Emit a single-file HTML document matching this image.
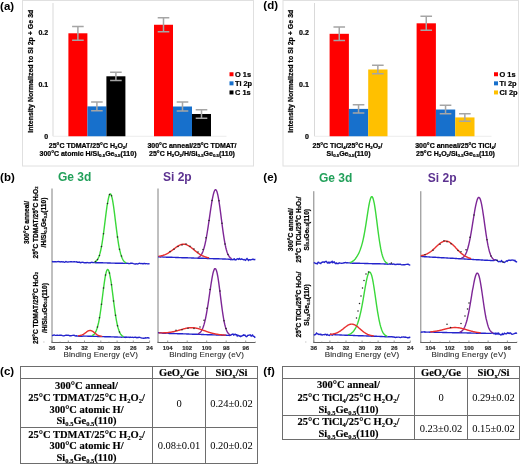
<!DOCTYPE html>
<html><head><meta charset="utf-8"><style>
html,body{margin:0;padding:0;background:#fff;}
svg{display:block;}
</style></head><body>
<svg width="520" height="465" viewBox="0 0 520 465">
<rect width="520" height="465" fill="#fff"/>
<rect x="22.5" y="0.5" width="231.0" height="165.5" fill="none" stroke="#e0e0e0" stroke-width="1"/>
<line x1="53" y1="3" x2="53" y2="136.25" stroke="#d9d9d9" stroke-width="1"/>
<line x1="53" y1="136.25" x2="226.5" y2="136.25" stroke="#ececec" stroke-width="1"/>
<text x="48.2" y="138.75" font-size="7" text-anchor="end" font-weight="bold" fill="#000" font-family="'Liberation Sans', Arial, sans-serif" stroke="#000" stroke-width="0.22" >0</text>
<text x="48.2" y="86.75" font-size="7" text-anchor="end" font-weight="bold" fill="#000" font-family="'Liberation Sans', Arial, sans-serif" stroke="#000" stroke-width="0.22" >0.1</text>
<text x="48.2" y="34.75" font-size="7" text-anchor="end" font-weight="bold" fill="#000" font-family="'Liberation Sans', Arial, sans-serif" stroke="#000" stroke-width="0.22" >0.2</text>
<rect x="68.40" y="33.29" width="19.0" height="102.96" fill="#ff0000"/>
<path d="M72.10 26.44H83.70M77.90 26.44V40.14M72.10 40.14H83.70" stroke="#a5a5a5" stroke-width="1.5" fill="none"/>
<rect x="87.40" y="106.40" width="19.0" height="29.85" fill="#1770cc"/>
<path d="M91.10 102.00H102.70M96.90 102.00V110.80M91.10 110.80H102.70" stroke="#a5a5a5" stroke-width="1.5" fill="none"/>
<rect x="106.40" y="76.29" width="19.0" height="59.96" fill="#000000"/>
<path d="M110.10 72.14H121.70M115.90 72.14V80.44M110.10 80.44H121.70" stroke="#a5a5a5" stroke-width="1.5" fill="none"/>
<rect x="154.00" y="24.76" width="19.0" height="111.49" fill="#ff0000"/>
<path d="M157.70 17.66H169.30M163.50 17.66V31.86M157.70 31.86H169.30" stroke="#a5a5a5" stroke-width="1.5" fill="none"/>
<rect x="173.00" y="106.51" width="19.0" height="29.74" fill="#1770cc"/>
<path d="M176.70 102.01H188.30M182.50 102.01V111.01M176.70 111.01H188.30" stroke="#a5a5a5" stroke-width="1.5" fill="none"/>
<rect x="192.00" y="113.99" width="19.0" height="22.26" fill="#000000"/>
<path d="M195.70 109.69H207.30M201.50 109.69V118.29M195.70 118.29H207.30" stroke="#a5a5a5" stroke-width="1.5" fill="none"/>
<rect x="229.5" y="72.25" width="4" height="4" fill="#ff0000"/>
<text x="235.0" y="76.85" font-size="7.4" text-anchor="start" font-weight="bold" fill="#000" font-family="'Liberation Sans', Arial, sans-serif" stroke="#000" stroke-width="0.22" >O 1s</text>
<rect x="229.5" y="81.35" width="4" height="4" fill="#1770cc"/>
<text x="235.0" y="85.94999999999999" font-size="7.4" text-anchor="start" font-weight="bold" fill="#000" font-family="'Liberation Sans', Arial, sans-serif" stroke="#000" stroke-width="0.22" >Ti 2p</text>
<rect x="229.5" y="90.45" width="4" height="4" fill="#000000"/>
<text x="235.0" y="95.05" font-size="7.4" text-anchor="start" font-weight="bold" fill="#000" font-family="'Liberation Sans', Arial, sans-serif" stroke="#000" stroke-width="0.22" >C 1s</text>
<text x="88" y="148.2" font-size="7" text-anchor="middle" font-weight="bold" fill="#000" font-family="'Liberation Sans', Arial, sans-serif" stroke="#000" stroke-width="0.22" >25°C TDMAT/25°C H<tspan font-size="62%" baseline-shift="-30%">2</tspan>O<tspan font-size="62%" baseline-shift="-30%">2</tspan>/</text>
<text x="88" y="156.0" font-size="7" text-anchor="middle" font-weight="bold" fill="#000" font-family="'Liberation Sans', Arial, sans-serif" stroke="#000" stroke-width="0.22" >300°C atomic H/Si<tspan font-size="62%" baseline-shift="-30%">0.5</tspan>Ge<tspan font-size="62%" baseline-shift="-30%">0.5</tspan>(110)</text>
<text x="192" y="148.2" font-size="7" text-anchor="middle" font-weight="bold" fill="#000" font-family="'Liberation Sans', Arial, sans-serif" stroke="#000" stroke-width="0.22" >300°C anneal/25°C TDMAT/</text>
<text x="192" y="156.0" font-size="7" text-anchor="middle" font-weight="bold" fill="#000" font-family="'Liberation Sans', Arial, sans-serif" stroke="#000" stroke-width="0.22" >25°C H<tspan font-size="62%" baseline-shift="-30%">2</tspan>O<tspan font-size="62%" baseline-shift="-30%">2</tspan>/H/Si<tspan font-size="62%" baseline-shift="-30%">0.5</tspan>Ge<tspan font-size="62%" baseline-shift="-30%">0.5</tspan>(110)</text>
<text transform="translate(30.2,71.25) rotate(-90)" x="0" y="0" font-size="7" text-anchor="middle" font-weight="bold" font-family="'Liberation Sans', Arial, sans-serif" stroke="#000" stroke-width="0.22" dominant-baseline="central">Intensity Normalized to Si 2p + Ge 3d</text>
<text x="0.1" y="10.2" font-size="11.5" text-anchor="start" font-weight="bold" fill="#000" font-family="'Liberation Sans', Arial, sans-serif" >(a)</text>
<rect x="283" y="0.5" width="235.5" height="165.5" fill="none" stroke="#e0e0e0" stroke-width="1"/>
<line x1="314.5" y1="3" x2="314.5" y2="136.25" stroke="#d9d9d9" stroke-width="1"/>
<line x1="314.5" y1="136.25" x2="491.5" y2="136.25" stroke="#ececec" stroke-width="1"/>
<text x="308.8" y="138.75" font-size="7" text-anchor="end" font-weight="bold" fill="#000" font-family="'Liberation Sans', Arial, sans-serif" stroke="#000" stroke-width="0.22" >0</text>
<text x="308.8" y="86.75" font-size="7" text-anchor="end" font-weight="bold" fill="#000" font-family="'Liberation Sans', Arial, sans-serif" stroke="#000" stroke-width="0.22" >0.1</text>
<text x="308.8" y="34.75" font-size="7" text-anchor="end" font-weight="bold" fill="#000" font-family="'Liberation Sans', Arial, sans-serif" stroke="#000" stroke-width="0.22" >0.2</text>
<rect x="329.60" y="33.81" width="19.3" height="102.44" fill="#ff0000"/>
<path d="M333.45 27.01H345.05M339.25 27.01V40.61M333.45 40.61H345.05" stroke="#a5a5a5" stroke-width="1.5" fill="none"/>
<rect x="348.90" y="108.90" width="19.3" height="27.35" fill="#1770cc"/>
<path d="M352.75 104.75H364.35M358.55 104.75V113.05M352.75 113.05H364.35" stroke="#a5a5a5" stroke-width="1.5" fill="none"/>
<rect x="368.20" y="69.48" width="19.3" height="66.77" fill="#ffc000"/>
<path d="M372.05 65.13H383.65M377.85 65.13V73.83M372.05 73.83H383.65" stroke="#a5a5a5" stroke-width="1.5" fill="none"/>
<rect x="416.60" y="23.31" width="19.3" height="112.94" fill="#ff0000"/>
<path d="M420.45 16.31H432.05M426.25 16.31V30.31M420.45 30.31H432.05" stroke="#a5a5a5" stroke-width="1.5" fill="none"/>
<rect x="435.90" y="109.52" width="19.3" height="26.73" fill="#1770cc"/>
<path d="M439.75 105.22H451.35M445.55 105.22V113.82M439.75 113.82H451.35" stroke="#a5a5a5" stroke-width="1.5" fill="none"/>
<rect x="455.20" y="117.43" width="19.3" height="18.82" fill="#ffc000"/>
<path d="M459.05 113.73H470.65M464.85 113.73V121.13M459.05 121.13H470.65" stroke="#a5a5a5" stroke-width="1.5" fill="none"/>
<rect x="494" y="72.25" width="4" height="4" fill="#ff0000"/>
<text x="499.5" y="76.85" font-size="7.4" text-anchor="start" font-weight="bold" fill="#000" font-family="'Liberation Sans', Arial, sans-serif" stroke="#000" stroke-width="0.22" >O 1s</text>
<rect x="494" y="81.35" width="4" height="4" fill="#1770cc"/>
<text x="499.5" y="85.94999999999999" font-size="7.4" text-anchor="start" font-weight="bold" fill="#000" font-family="'Liberation Sans', Arial, sans-serif" stroke="#000" stroke-width="0.22" >Ti 2p</text>
<rect x="494" y="90.45" width="4" height="4" fill="#ffc000"/>
<text x="499.5" y="95.05" font-size="7.4" text-anchor="start" font-weight="bold" fill="#000" font-family="'Liberation Sans', Arial, sans-serif" stroke="#000" stroke-width="0.22" >Cl 2p</text>
<text x="347.5" y="148.2" font-size="7" text-anchor="middle" font-weight="bold" fill="#000" font-family="'Liberation Sans', Arial, sans-serif" stroke="#000" stroke-width="0.22" >25°C TiCl<tspan font-size="62%" baseline-shift="-30%">4</tspan>/25°C H<tspan font-size="62%" baseline-shift="-30%">2</tspan>O<tspan font-size="62%" baseline-shift="-30%">2</tspan>/</text>
<text x="348.5" y="156.0" font-size="7" text-anchor="middle" font-weight="bold" fill="#000" font-family="'Liberation Sans', Arial, sans-serif" stroke="#000" stroke-width="0.22" >Si<tspan font-size="62%" baseline-shift="-30%">0.5</tspan>Ge<tspan font-size="62%" baseline-shift="-30%">0.5</tspan>(110)</text>
<text x="455.5" y="148.2" font-size="7" text-anchor="middle" font-weight="bold" fill="#000" font-family="'Liberation Sans', Arial, sans-serif" stroke="#000" stroke-width="0.22" >300°C anneal/25°C TiCl<tspan font-size="62%" baseline-shift="-30%">4</tspan>/</text>
<text x="455.5" y="156.0" font-size="7" text-anchor="middle" font-weight="bold" fill="#000" font-family="'Liberation Sans', Arial, sans-serif" stroke="#000" stroke-width="0.22" >25°C H<tspan font-size="62%" baseline-shift="-30%">2</tspan>O<tspan font-size="62%" baseline-shift="-30%">2</tspan>/Si<tspan font-size="62%" baseline-shift="-30%">0.5</tspan>Ge<tspan font-size="62%" baseline-shift="-30%">0.5</tspan>(110)</text>
<text transform="translate(290.5,71.25) rotate(-90)" x="0" y="0" font-size="7" text-anchor="middle" font-weight="bold" font-family="'Liberation Sans', Arial, sans-serif" stroke="#000" stroke-width="0.22" dominant-baseline="central">Intensity Normalized to Si 2p + Ge 3d</text>
<text x="263.3" y="9.4" font-size="11.5" text-anchor="start" font-weight="bold" fill="#000" font-family="'Liberation Sans', Arial, sans-serif" >(d)</text>
<text x="0.1" y="180.5" font-size="11.5" text-anchor="start" font-weight="bold" fill="#000" font-family="'Liberation Sans', Arial, sans-serif" >(b)</text>
<text x="58" y="180.7" font-size="12" text-anchor="start" font-weight="bold" fill="#22a05a" font-family="'Liberation Sans', Arial, sans-serif" >Ge 3d</text>
<text x="163" y="180.7" font-size="12" text-anchor="start" font-weight="bold" fill="#5c3290" font-family="'Liberation Sans', Arial, sans-serif" >Si 2p</text>
<path d="M52 188.5V342.5" stroke="#808080" stroke-width="1" fill="none"/>
<path d="M51.5 342.5H149.6" stroke="#606060" stroke-width="1" fill="none"/>
<line x1="52.0" y1="342.5" x2="52.0" y2="340.5" stroke="#808080" stroke-width="0.8"/>
<text x="52.0" y="349.5" font-size="5.9" text-anchor="middle" font-weight="bold" fill="#333" font-family="'Liberation Sans', Arial, sans-serif" stroke="#333" stroke-width="0.22" >36</text>
<line x1="68.3" y1="342.5" x2="68.3" y2="340.5" stroke="#808080" stroke-width="0.8"/>
<text x="68.3" y="349.5" font-size="5.9" text-anchor="middle" font-weight="bold" fill="#333" font-family="'Liberation Sans', Arial, sans-serif" stroke="#333" stroke-width="0.22" >34</text>
<line x1="84.5" y1="342.5" x2="84.5" y2="340.5" stroke="#808080" stroke-width="0.8"/>
<text x="84.5" y="349.5" font-size="5.9" text-anchor="middle" font-weight="bold" fill="#333" font-family="'Liberation Sans', Arial, sans-serif" stroke="#333" stroke-width="0.22" >32</text>
<line x1="100.8" y1="342.5" x2="100.8" y2="340.5" stroke="#808080" stroke-width="0.8"/>
<text x="100.8" y="349.5" font-size="5.9" text-anchor="middle" font-weight="bold" fill="#333" font-family="'Liberation Sans', Arial, sans-serif" stroke="#333" stroke-width="0.22" >30</text>
<line x1="117.1" y1="342.5" x2="117.1" y2="340.5" stroke="#808080" stroke-width="0.8"/>
<text x="117.1" y="349.5" font-size="5.9" text-anchor="middle" font-weight="bold" fill="#333" font-family="'Liberation Sans', Arial, sans-serif" stroke="#333" stroke-width="0.22" >28</text>
<line x1="133.3" y1="342.5" x2="133.3" y2="340.5" stroke="#808080" stroke-width="0.8"/>
<text x="133.3" y="349.5" font-size="5.9" text-anchor="middle" font-weight="bold" fill="#333" font-family="'Liberation Sans', Arial, sans-serif" stroke="#333" stroke-width="0.22" >26</text>
<line x1="149.6" y1="342.5" x2="149.6" y2="340.5" stroke="#808080" stroke-width="0.8"/>
<text x="149.6" y="349.5" font-size="5.9" text-anchor="middle" font-weight="bold" fill="#333" font-family="'Liberation Sans', Arial, sans-serif" stroke="#333" stroke-width="0.22" >24</text>
<line x1="43.9" y1="342.5" x2="43.9" y2="341.5" stroke="#808080" stroke-width="0.6"/>
<line x1="60.1" y1="342.5" x2="60.1" y2="341.5" stroke="#808080" stroke-width="0.6"/>
<line x1="76.4" y1="342.5" x2="76.4" y2="341.5" stroke="#808080" stroke-width="0.6"/>
<line x1="92.7" y1="342.5" x2="92.7" y2="341.5" stroke="#808080" stroke-width="0.6"/>
<line x1="108.9" y1="342.5" x2="108.9" y2="341.5" stroke="#808080" stroke-width="0.6"/>
<line x1="125.2" y1="342.5" x2="125.2" y2="341.5" stroke="#808080" stroke-width="0.6"/>
<path d="M158 188.5V342.5" stroke="#808080" stroke-width="1" fill="none"/>
<path d="M157.5 342.5H255.4" stroke="#606060" stroke-width="1" fill="none"/>
<line x1="167.7" y1="342.5" x2="167.7" y2="340.5" stroke="#808080" stroke-width="0.8"/>
<text x="167.7" y="349.5" font-size="5.9" text-anchor="middle" font-weight="bold" fill="#333" font-family="'Liberation Sans', Arial, sans-serif" stroke="#333" stroke-width="0.22" >104</text>
<line x1="187.2" y1="342.5" x2="187.2" y2="340.5" stroke="#808080" stroke-width="0.8"/>
<text x="187.2" y="349.5" font-size="5.9" text-anchor="middle" font-weight="bold" fill="#333" font-family="'Liberation Sans', Arial, sans-serif" stroke="#333" stroke-width="0.22" >102</text>
<line x1="206.7" y1="342.5" x2="206.7" y2="340.5" stroke="#808080" stroke-width="0.8"/>
<text x="206.7" y="349.5" font-size="5.9" text-anchor="middle" font-weight="bold" fill="#333" font-family="'Liberation Sans', Arial, sans-serif" stroke="#333" stroke-width="0.22" >100</text>
<line x1="226.2" y1="342.5" x2="226.2" y2="340.5" stroke="#808080" stroke-width="0.8"/>
<text x="226.2" y="349.5" font-size="5.9" text-anchor="middle" font-weight="bold" fill="#333" font-family="'Liberation Sans', Arial, sans-serif" stroke="#333" stroke-width="0.22" >98</text>
<line x1="245.7" y1="342.5" x2="245.7" y2="340.5" stroke="#808080" stroke-width="0.8"/>
<text x="245.7" y="349.5" font-size="5.9" text-anchor="middle" font-weight="bold" fill="#333" font-family="'Liberation Sans', Arial, sans-serif" stroke="#333" stroke-width="0.22" >96</text>
<line x1="158.0" y1="342.5" x2="158.0" y2="341.5" stroke="#808080" stroke-width="0.6"/>
<line x1="177.5" y1="342.5" x2="177.5" y2="341.5" stroke="#808080" stroke-width="0.6"/>
<line x1="197.0" y1="342.5" x2="197.0" y2="341.5" stroke="#808080" stroke-width="0.6"/>
<line x1="216.4" y1="342.5" x2="216.4" y2="341.5" stroke="#808080" stroke-width="0.6"/>
<line x1="235.9" y1="342.5" x2="235.9" y2="341.5" stroke="#808080" stroke-width="0.6"/>
<line x1="255.4" y1="342.5" x2="255.4" y2="341.5" stroke="#808080" stroke-width="0.6"/>
<text x="100.8" y="356.9" font-size="8.0" text-anchor="middle" font-weight="normal" fill="#2a2a2a" font-family="'Liberation Sans', Arial, sans-serif" stroke="#2a2a2a" stroke-width="0.1" letter-spacing="0.17">Binding Energy (eV)</text>
<text x="206.7" y="356.9" font-size="8.0" text-anchor="middle" font-weight="normal" fill="#2a2a2a" font-family="'Liberation Sans', Arial, sans-serif" stroke="#2a2a2a" stroke-width="0.1" letter-spacing="0.17">Binding Energy (eV)</text>
<path d="M52.0 261.4 L52.7 261.7 L53.4 261.8 L54.1 261.6 L54.8 261.7 L55.5 261.6 L56.2 261.8 L56.9 261.9 L57.6 261.6 L58.3 261.4 L59.0 261.8 L59.7 261.7 L60.4 261.9 L61.1 261.6 L61.8 261.7 L62.5 261.9 L63.2 261.7 L63.9 262.1 L64.6 262.3 L65.3 261.9 L66.0 261.6 L66.7 261.8 L67.4 262.1 L68.1 262.0 L68.9 261.9 L69.6 261.9 L70.3 261.7 L71.0 261.7 L71.7 261.8 L72.4 261.9 L73.1 261.9 L73.8 261.8 L74.5 261.8 L75.2 261.9 L75.9 261.9 L76.6 261.8 L77.3 262.2 L78.0 262.2 L78.7 262.3 L79.4 262.1 L80.1 262.5 L80.8 262.7 L81.5 262.3 L82.2 262.2 L82.9 262.4 L83.6 262.5 L84.3 262.8 L85.0 262.6 L85.7 262.7 L86.4 262.7 L87.1 262.5 L87.8 262.6 L88.5 262.8 L89.2 262.9 L89.9 262.8 L90.6 262.7 L91.3 262.4 L92.0 262.3 L92.7 262.6 L93.4 262.6 L94.1 262.5 L94.8 262.6 L95.5 262.7 L96.2 262.7 L96.9 262.7 L97.6 262.7 L98.3 262.7 L99.0 262.8 L99.7 262.8 L100.4 262.8 L101.2 262.8 L101.9 262.8 L102.6 262.8 L103.3 262.9 L104.0 262.9 L104.7 262.9 L105.4 262.9 L106.1 262.9 L106.8 262.9 L107.5 263.0 L108.2 263.0 L108.9 263.0 L109.6 263.0 L110.3 263.0 L111.0 263.1 L111.7 263.1 L112.4 263.1 L113.1 263.1 L113.8 263.1 L114.5 263.1 L115.2 263.2 L115.9 263.2 L116.6 263.2 L117.3 263.2 L118.0 263.2 L118.7 263.2 L119.4 263.3 L120.1 263.3 L120.8 263.3 L121.5 263.3 L122.2 263.3 L122.9 263.3 L123.6 263.4 L124.3 263.4 L125.0 263.4 L125.7 263.4 L126.4 263.3 L127.1 263.3 L127.8 263.4 L128.5 263.5 L129.2 263.6 L129.9 263.5 L130.6 263.3 L131.3 263.2 L132.0 263.2 L132.7 263.4 L133.5 263.7 L134.2 263.9 L134.9 264.0 L135.6 264.0 L136.3 263.8 L137.0 263.9 L137.7 264.0 L138.4 263.6 L139.1 263.4 L139.8 263.3 L140.5 263.6 L141.2 263.6 L141.9 263.4 L142.6 263.7 L143.3 263.7 L144.0 263.5 L144.7 263.5 L145.4 263.7 L146.1 263.6 L146.8 263.6 L147.5 263.9 L148.2 263.9 L148.9 263.8 L149.6 263.9" stroke="#2424cc" stroke-width="1.4" fill="none"/>
<path d="M94.5 262.0 L95.0 261.8 L95.5 261.5 L96.0 261.2 L96.5 260.7 L97.0 260.2 L97.5 259.5 L98.0 258.6 L98.5 257.6 L99.0 256.4 L99.5 254.9 L100.0 253.2 L100.5 251.3 L101.0 249.0 L101.5 246.5 L102.0 243.6 L102.5 240.5 L103.0 237.1 L103.5 233.5 L104.0 229.7 L104.5 225.7 L105.0 221.7 L105.5 217.6 L106.0 213.6 L106.5 209.8 L107.0 206.2 L107.6 202.9 L108.1 200.1 L108.6 197.7 L109.1 195.8 L109.6 194.6 L110.1 194.0 L110.6 194.0 L111.1 194.7 L111.6 196.1 L112.1 198.0 L112.6 200.4 L113.1 203.4 L113.6 206.7 L114.1 210.4 L114.6 214.2 L115.1 218.3 L115.6 222.4 L116.1 226.4 L116.6 230.4 L117.1 234.2 L117.6 237.8 L118.1 241.2 L118.6 244.3 L119.1 247.2 L119.6 249.7 L120.2 251.9 L120.7 253.9 L121.2 255.6 L121.7 257.1 L122.2 258.3 L122.7 259.3 L123.2 260.2 L123.7 260.9 L124.2 261.5 L124.7 261.9 L125.2 262.3 L125.7 262.6 L126.2 262.8" stroke="#3ad83a" stroke-width="1.4" fill="none" stroke-linejoin="round"/>
<circle cx="95.5" cy="261.4" r="0.75" fill="#222"/>
<circle cx="97.5" cy="259.5" r="0.75" fill="#222"/>
<circle cx="99.5" cy="255.4" r="0.75" fill="#222"/>
<circle cx="101.5" cy="246.4" r="0.75" fill="#222"/>
<circle cx="103.5" cy="233.7" r="0.75" fill="#222"/>
<circle cx="107.5" cy="203.4" r="0.75" fill="#222"/>
<circle cx="109.5" cy="194.4" r="0.75" fill="#222"/>
<circle cx="111.5" cy="195.8" r="0.75" fill="#222"/>
<circle cx="117.5" cy="237.1" r="0.75" fill="#222"/>
<circle cx="119.5" cy="249.3" r="0.75" fill="#222"/>
<circle cx="121.5" cy="256.1" r="0.75" fill="#222"/>
<path d="M52.0 335.4 L52.7 335.6 L53.4 335.1 L54.1 334.9 L54.8 335.2 L55.5 335.4 L56.2 335.4 L56.9 335.3 L57.6 335.3 L58.3 335.4 L59.0 335.4 L59.7 335.2 L60.4 335.2 L61.1 335.2 L61.8 335.4 L62.5 335.7 L63.2 335.9 L63.9 335.8 L64.6 335.6 L65.3 335.4 L66.0 335.2 L66.7 335.1 L67.4 335.3 L68.1 335.3 L68.9 335.4 L69.6 335.7 L70.3 335.7 L71.0 335.7 L71.7 335.6 L72.4 335.4 L73.1 335.4 L73.8 335.3 L74.5 335.5 L75.2 335.9 L75.9 336.0 L76.6 335.8 L77.3 336.0 L78.0 336.1 L78.7 336.2 L79.4 336.3 L80.1 336.3 L80.8 336.2 L81.5 336.1 L82.2 336.2 L82.9 336.1 L83.6 336.0 L84.3 336.1 L85.0 336.1 L85.7 336.1 L86.4 336.1 L87.1 336.1 L87.8 336.2 L88.5 336.2 L89.2 336.2 L89.9 336.2 L90.6 336.2 L91.3 336.3 L92.0 336.3 L92.7 336.3 L93.4 336.3 L94.1 336.4 L94.8 336.4 L95.5 336.4 L96.2 336.4 L96.9 336.4 L97.6 336.5 L98.3 336.5 L99.0 336.5 L99.7 336.5 L100.4 336.5 L101.2 336.6 L101.9 336.6 L102.6 336.6 L103.3 336.6 L104.0 336.6 L104.7 336.7 L105.4 336.7 L106.1 336.7 L106.8 336.7 L107.5 336.7 L108.2 336.8 L108.9 336.8 L109.6 336.8 L110.3 336.8 L111.0 336.9 L111.7 336.9 L112.4 336.9 L113.1 336.9 L113.8 336.9 L114.5 337.0 L115.2 337.0 L115.9 337.0 L116.6 337.0 L117.3 337.0 L118.0 337.1 L118.7 337.1 L119.4 337.1 L120.1 337.1 L120.8 337.1 L121.5 337.2 L122.2 337.1 L122.9 337.1 L123.6 337.0 L124.3 337.2 L125.0 337.0 L125.7 337.4 L126.4 337.1 L127.1 337.3 L127.8 337.1 L128.5 337.1 L129.2 337.4 L129.9 337.2 L130.6 337.1 L131.3 337.4 L132.0 337.4 L132.7 337.2 L133.5 337.6 L134.2 337.4 L134.9 337.2 L135.6 337.3 L136.3 337.5 L137.0 337.7 L137.7 337.5 L138.4 337.5 L139.1 337.3 L139.8 337.4 L140.5 337.7 L141.2 337.9 L141.9 338.1 L142.6 338.1 L143.3 338.2 L144.0 338.2 L144.7 338.1 L145.4 337.8 L146.1 338.0 L146.8 337.9 L147.5 337.7 L148.2 337.8 L148.9 338.1 L149.6 337.8" stroke="#2424cc" stroke-width="1.4" fill="none"/>
<path d="M91.9 335.7 L92.4 335.5 L92.9 335.2 L93.4 334.9 L93.9 334.4 L94.4 333.9 L94.9 333.2 L95.4 332.4 L95.9 331.4 L96.4 330.2 L96.9 328.8 L97.4 327.1 L97.9 325.2 L98.5 323.0 L99.0 320.6 L99.5 317.8 L100.0 314.8 L100.5 311.5 L101.0 308.0 L101.5 304.2 L102.0 300.4 L102.5 296.5 L103.0 292.5 L103.5 288.6 L104.0 284.9 L104.5 281.4 L105.0 278.2 L105.5 275.4 L106.0 273.1 L106.5 271.3 L107.0 270.1 L107.5 269.5 L108.0 269.6 L108.5 270.2 L109.0 271.5 L109.5 273.4 L110.0 275.8 L110.5 278.7 L111.1 281.9 L111.6 285.5 L112.1 289.3 L112.6 293.2 L113.1 297.2 L113.6 301.1 L114.1 305.0 L114.6 308.7 L115.1 312.3 L115.6 315.6 L116.1 318.6 L116.6 321.3 L117.1 323.8 L117.6 326.0 L118.1 327.9 L118.6 329.6 L119.1 331.0 L119.6 332.2 L120.1 333.2 L120.6 334.1 L121.1 334.8 L121.6 335.3 L122.1 335.8 L122.6 336.1 L123.1 336.4 L123.7 336.6" stroke="#3ad83a" stroke-width="1.4" fill="none" stroke-linejoin="round"/>
<path d="M78.1 335.7 L78.6 335.7 L79.1 335.6 L79.6 335.6 L80.1 335.5 L80.6 335.4 L81.1 335.2 L81.6 335.1 L82.2 334.9 L82.7 334.6 L83.2 334.4 L83.7 334.1 L84.2 333.7 L84.7 333.4 L85.2 333.0 L85.7 332.6 L86.2 332.3 L86.7 331.9 L87.2 331.5 L87.7 331.2 L88.2 330.9 L88.7 330.7 L89.2 330.6 L89.7 330.5 L90.2 330.4 L90.7 330.5 L91.2 330.6 L91.7 330.8 L92.2 331.1 L92.7 331.4 L93.2 331.7 L93.7 332.1 L94.2 332.5 L94.7 332.9 L95.2 333.3 L95.7 333.7 L96.2 334.1 L96.7 334.5 L97.2 334.8 L97.7 335.1 L98.2 335.3 L98.8 335.6 L99.3 335.8 L99.8 335.9 L100.3 336.1 L100.8 336.2 L101.3 336.3 L101.8 336.4 L102.3 336.4" stroke="#e83030" stroke-width="1.4" fill="none" stroke-linejoin="round"/>
<circle cx="97.5" cy="326.9" r="0.75" fill="#222"/>
<circle cx="99.5" cy="317.8" r="0.75" fill="#222"/>
<circle cx="101.5" cy="304.3" r="0.75" fill="#222"/>
<circle cx="103.5" cy="288.1" r="0.75" fill="#222"/>
<circle cx="105.5" cy="274.9" r="0.75" fill="#222"/>
<circle cx="109.5" cy="273.1" r="0.75" fill="#222"/>
<circle cx="111.5" cy="284.8" r="0.75" fill="#222"/>
<circle cx="113.5" cy="300.9" r="0.75" fill="#222"/>
<circle cx="115.5" cy="315.2" r="0.75" fill="#222"/>
<circle cx="117.5" cy="325.7" r="0.75" fill="#222"/>
<circle cx="119.5" cy="332.0" r="0.75" fill="#222"/>
<path d="M158.0 256.8 L158.7 256.9 L159.4 256.9 L160.1 257.0 L160.8 257.0 L161.5 256.9 L162.2 256.9 L162.9 257.0 L163.6 257.1 L164.3 257.1 L165.0 257.1 L165.7 257.1 L166.4 257.2 L167.1 257.2 L167.8 257.2 L168.5 257.2 L169.2 257.3 L169.9 257.3 L170.6 257.3 L171.3 257.3 L172.0 257.3 L172.7 257.4 L173.4 257.4 L174.1 257.4 L174.8 257.4 L175.5 257.5 L176.2 257.5 L176.9 257.5 L177.6 257.5 L178.3 257.5 L179.0 257.6 L179.7 257.6 L180.4 257.6 L181.1 257.6 L181.8 257.7 L182.5 257.7 L183.2 257.7 L183.9 257.7 L184.6 257.7 L185.3 257.8 L186.0 257.8 L186.7 257.8 L187.4 257.8 L188.1 257.9 L188.8 257.9 L189.5 257.9 L190.2 257.9 L190.9 257.9 L191.6 258.0 L192.3 258.0 L193.0 258.0 L193.7 258.0 L194.4 258.1 L195.1 258.1 L195.8 258.1 L196.5 258.1 L197.2 258.1 L197.9 258.2 L198.6 258.2 L199.3 258.2 L200.0 258.2 L200.7 258.3 L201.4 258.3 L202.1 258.3 L202.8 258.3 L203.5 258.3 L204.2 258.4 L204.9 258.4 L205.6 258.4 L206.3 258.4 L207.1 258.5 L207.8 258.5 L208.5 258.5 L209.2 258.5 L209.9 258.6 L210.6 258.6 L211.3 258.6 L212.0 258.6 L212.7 258.6 L213.4 258.7 L214.1 258.7 L214.8 258.7 L215.5 258.7 L216.2 258.8 L216.9 258.8 L217.6 258.8 L218.3 258.8 L219.0 258.8 L219.7 258.9 L220.4 258.9 L221.1 258.9 L221.8 258.9 L222.5 259.0 L223.2 259.0 L223.9 259.0 L224.6 259.0 L225.3 259.0 L226.0 259.1 L226.7 259.1 L227.4 259.1 L228.1 259.1 L228.8 259.2 L229.5 259.2 L230.2 259.3 L230.9 259.7 L231.6 259.6 L232.3 259.5 L233.0 259.8 L233.7 259.2 L234.4 258.9 L235.1 259.9 L235.8 259.8 L236.5 259.7 L237.2 258.7 L237.9 258.9 L238.6 259.3 L239.3 258.5 L240.0 259.1 L240.7 259.5 L241.4 258.8 L242.1 259.3 L242.8 259.4 L243.5 259.8 L244.2 259.5 L244.9 260.0 L245.6 260.3 L246.3 259.2 L247.0 258.6 L247.7 259.4 L248.4 260.4 L249.1 259.7 L249.8 259.7 L250.5 259.9 L251.2 259.6 L251.9 259.5 L252.6 259.3 L253.3 259.3 L254.0 259.8 L254.7 259.5 L255.4 259.5" stroke="#2424cc" stroke-width="1.4" fill="none"/>
<path d="M197.8 257.6 L198.3 257.4 L198.8 257.2 L199.3 256.9 L199.8 256.5 L200.3 256.0 L200.8 255.4 L201.3 254.7 L201.8 253.9 L202.3 252.9 L202.8 251.7 L203.3 250.4 L203.8 248.8 L204.3 247.0 L204.8 245.1 L205.3 242.9 L205.8 240.5 L206.3 237.8 L206.8 235.0 L207.3 232.0 L207.8 228.9 L208.3 225.6 L208.8 222.2 L209.3 218.8 L209.8 215.3 L210.3 211.9 L210.8 208.5 L211.3 205.3 L211.8 202.2 L212.3 199.4 L212.8 196.8 L213.3 194.6 L213.8 192.7 L214.3 191.3 L214.8 190.3 L215.3 189.8 L215.8 189.8 L216.3 190.3 L216.8 191.3 L217.3 192.9 L217.8 194.9 L218.3 197.4 L218.8 200.2 L219.3 203.4 L219.8 206.9 L220.3 210.6 L220.8 214.4 L221.3 218.3 L221.8 222.2 L222.3 226.1 L222.8 229.8 L223.3 233.4 L223.8 236.7 L224.3 239.8 L224.8 242.6 L225.3 245.2 L225.8 247.5 L226.3 249.5 L226.8 251.2 L227.3 252.7 L227.8 254.0 L228.3 255.0 L228.8 255.9 L229.3 256.7 L229.8 257.2 L230.3 257.7 L230.8 258.1 L231.3 258.4 L231.8 258.6" stroke="#7d2696" stroke-width="1.4" fill="none" stroke-linejoin="round"/>
<path d="M158.6 256.3 L159.1 256.2 L159.6 256.1 L160.1 256.1 L160.6 256.0 L161.1 255.9 L161.6 255.7 L162.1 255.6 L162.6 255.5 L163.1 255.3 L163.6 255.2 L164.1 255.0 L164.6 254.8 L165.2 254.6 L165.7 254.4 L166.2 254.1 L166.7 253.9 L167.2 253.6 L167.7 253.3 L168.2 253.1 L168.7 252.7 L169.2 252.4 L169.7 252.1 L170.2 251.8 L170.7 251.4 L171.2 251.0 L171.7 250.7 L172.2 250.3 L172.7 249.9 L173.2 249.5 L173.7 249.1 L174.2 248.7 L174.7 248.3 L175.2 248.0 L175.7 247.6 L176.2 247.2 L176.7 246.9 L177.2 246.5 L177.8 246.2 L178.3 245.9 L178.8 245.6 L179.3 245.3 L179.8 245.1 L180.3 244.9 L180.8 244.7 L181.3 244.5 L181.8 244.4 L182.3 244.3 L182.8 244.3 L183.3 244.2 L183.8 244.2 L184.3 244.3 L184.8 244.3 L185.3 244.4 L185.8 244.5 L186.3 244.7 L186.8 244.9 L187.3 245.1 L187.8 245.4 L188.3 245.6 L188.8 245.9 L189.3 246.3 L189.8 246.6 L190.4 246.9 L190.9 247.3 L191.4 247.7 L191.9 248.1 L192.4 248.5 L192.9 248.9 L193.4 249.3 L193.9 249.8 L194.4 250.2 L194.9 250.6 L195.4 251.0 L195.9 251.4 L196.4 251.8 L196.9 252.2 L197.4 252.6 L197.9 253.0 L198.4 253.4 L198.9 253.7 L199.4 254.0 L199.9 254.4 L200.4 254.7 L200.9 255.0 L201.4 255.3 L201.9 255.5 L202.4 255.8 L203.0 256.0 L203.5 256.2 L204.0 256.5 L204.5 256.7 L205.0 256.8 L205.5 257.0 L206.0 257.2 L206.5 257.3 L207.0 257.4 L207.5 257.6 L208.0 257.7 L208.5 257.8 L209.0 257.9" stroke="#e83030" stroke-width="1.4" fill="none" stroke-linejoin="round"/>
<circle cx="170.0" cy="251.4" r="0.75" fill="#222"/>
<circle cx="174.0" cy="249.3" r="0.75" fill="#222"/>
<circle cx="178.0" cy="246.4" r="0.75" fill="#222"/>
<circle cx="182.0" cy="245.1" r="0.75" fill="#222"/>
<circle cx="186.0" cy="244.0" r="0.75" fill="#222"/>
<circle cx="190.0" cy="246.2" r="0.75" fill="#222"/>
<circle cx="194.0" cy="249.1" r="0.75" fill="#222"/>
<circle cx="198.0" cy="251.9" r="0.75" fill="#222"/>
<circle cx="203.0" cy="249.5" r="0.75" fill="#222"/>
<circle cx="206.0" cy="237.7" r="0.75" fill="#222"/>
<circle cx="209.0" cy="220.6" r="0.75" fill="#222"/>
<circle cx="212.0" cy="200.5" r="0.75" fill="#222"/>
<circle cx="219.0" cy="200.7" r="0.75" fill="#222"/>
<circle cx="222.0" cy="223.3" r="0.75" fill="#222"/>
<circle cx="225.0" cy="244.1" r="0.75" fill="#222"/>
<circle cx="228.0" cy="254.5" r="0.75" fill="#222"/>
<path d="M158.0 332.8 L158.7 332.7 L159.4 332.8 L160.1 332.7 L160.8 332.7 L161.5 332.8 L162.2 333.2 L162.9 333.3 L163.6 333.4 L164.3 333.2 L165.0 333.3 L165.7 333.2 L166.4 333.1 L167.1 333.0 L167.8 333.1 L168.5 333.4 L169.2 333.5 L169.9 333.5 L170.6 333.6 L171.3 333.5 L172.0 333.5 L172.7 333.5 L173.4 333.5 L174.1 333.5 L174.8 333.6 L175.5 333.6 L176.2 333.6 L176.9 333.6 L177.6 333.7 L178.3 333.7 L179.0 333.7 L179.7 333.7 L180.4 333.8 L181.1 333.8 L181.8 333.8 L182.5 333.8 L183.2 333.9 L183.9 333.9 L184.6 333.9 L185.3 333.9 L186.0 333.9 L186.7 334.0 L187.4 334.0 L188.1 334.0 L188.8 334.0 L189.5 334.1 L190.2 334.1 L190.9 334.1 L191.6 334.1 L192.3 334.2 L193.0 334.2 L193.7 334.2 L194.4 334.2 L195.1 334.3 L195.8 334.3 L196.5 334.3 L197.2 334.3 L197.9 334.4 L198.6 334.4 L199.3 334.4 L200.0 334.4 L200.7 334.4 L201.4 334.5 L202.1 334.5 L202.8 334.5 L203.5 334.5 L204.2 334.6 L204.9 334.6 L205.6 334.6 L206.3 334.6 L207.1 334.7 L207.8 334.7 L208.5 334.7 L209.2 334.7 L209.9 334.8 L210.6 334.8 L211.3 334.8 L212.0 334.8 L212.7 334.9 L213.4 334.9 L214.1 334.9 L214.8 334.9 L215.5 334.9 L216.2 335.0 L216.9 335.0 L217.6 335.0 L218.3 335.0 L219.0 335.1 L219.7 335.1 L220.4 335.1 L221.1 335.1 L221.8 335.2 L222.5 335.2 L223.2 335.2 L223.9 335.2 L224.6 335.3 L225.3 335.3 L226.0 335.3 L226.7 335.3 L227.4 335.4 L228.1 335.4 L228.8 335.2 L229.5 335.5 L230.2 335.4 L230.9 335.1 L231.6 334.5 L232.3 334.2 L233.0 334.1 L233.7 335.0 L234.4 334.6 L235.1 334.2 L235.8 334.8 L236.5 334.7 L237.2 336.0 L237.9 335.2 L238.6 335.5 L239.3 336.1 L240.0 335.8 L240.7 336.7 L241.4 336.3 L242.1 335.7 L242.8 335.6 L243.5 334.9 L244.2 335.2 L244.9 335.1 L245.6 336.1 L246.3 336.7 L247.0 336.4 L247.7 335.4 L248.4 335.3 L249.1 335.1 L249.8 335.0 L250.5 335.0 L251.2 336.1 L251.9 335.5 L252.6 335.0 L253.3 336.3 L254.0 336.4 L254.7 337.2 L255.4 336.7" stroke="#2424cc" stroke-width="1.4" fill="none"/>
<path d="M197.9 333.8 L198.4 333.6 L198.9 333.3 L199.4 333.0 L199.9 332.6 L200.4 332.2 L200.9 331.6 L201.4 330.9 L201.9 330.0 L202.4 329.0 L202.9 327.8 L203.4 326.4 L203.9 324.9 L204.4 323.1 L204.9 321.1 L205.4 319.0 L205.9 316.6 L206.4 314.0 L206.9 311.2 L207.4 308.2 L207.9 305.1 L208.4 301.8 L208.9 298.5 L209.4 295.1 L209.9 291.7 L210.4 288.3 L210.9 285.0 L211.4 281.8 L211.9 278.8 L212.4 276.1 L212.9 273.7 L213.4 271.7 L213.9 270.2 L214.4 269.1 L214.9 268.6 L215.4 268.6 L215.9 269.2 L216.4 270.4 L216.9 272.2 L217.4 274.5 L217.9 277.2 L218.4 280.4 L218.9 283.9 L219.4 287.6 L219.9 291.6 L220.4 295.6 L220.9 299.6 L221.4 303.6 L221.9 307.4 L222.4 311.0 L222.9 314.4 L223.4 317.5 L223.9 320.3 L224.4 322.8 L224.9 325.0 L225.4 326.9 L225.9 328.6 L226.4 330.0 L226.9 331.1 L227.4 332.1 L227.9 332.8 L228.4 333.5 L228.9 334.0 L229.4 334.3 L229.9 334.6 L230.4 334.9" stroke="#7d2696" stroke-width="1.4" fill="none" stroke-linejoin="round"/>
<path d="M158.7 332.9 L159.2 332.9 L159.7 332.9 L160.2 332.9 L160.7 332.9 L161.2 332.9 L161.7 332.9 L162.2 332.9 L162.7 332.9 L163.2 332.9 L163.7 332.8 L164.2 332.8 L164.7 332.8 L165.2 332.8 L165.7 332.7 L166.2 332.7 L166.7 332.7 L167.2 332.6 L167.7 332.6 L168.2 332.5 L168.7 332.5 L169.2 332.4 L169.7 332.3 L170.2 332.3 L170.7 332.2 L171.2 332.1 L171.7 332.0 L172.2 331.9 L172.7 331.8 L173.2 331.7 L173.7 331.6 L174.2 331.5 L174.7 331.4 L175.2 331.3 L175.8 331.1 L176.3 331.0 L176.8 330.9 L177.3 330.7 L177.8 330.6 L178.3 330.4 L178.8 330.3 L179.3 330.2 L179.8 330.0 L180.3 329.9 L180.8 329.7 L181.3 329.6 L181.8 329.4 L182.3 329.3 L182.8 329.1 L183.3 329.0 L183.8 328.8 L184.3 328.7 L184.8 328.6 L185.3 328.5 L185.8 328.3 L186.3 328.2 L186.8 328.1 L187.3 328.0 L187.8 328.0 L188.3 327.9 L188.8 327.8 L189.3 327.8 L189.8 327.7 L190.3 327.7 L190.8 327.7 L191.3 327.7 L191.8 327.7 L192.3 327.7 L192.8 327.7 L193.3 327.7 L193.8 327.8 L194.3 327.8 L194.8 327.9 L195.3 328.0 L195.8 328.1 L196.3 328.2 L196.8 328.3 L197.3 328.4 L197.8 328.5 L198.3 328.6 L198.8 328.8 L199.3 328.9 L199.8 329.1 L200.3 329.3 L200.8 329.4 L201.3 329.6 L201.8 329.8 L202.3 329.9 L202.8 330.1 L203.3 330.3 L203.8 330.5 L204.3 330.7 L204.8 330.9 L205.3 331.0 L205.8 331.2 L206.3 331.4 L206.8 331.6 L207.3 331.8 L207.8 331.9 L208.3 332.1 L208.8 332.3 L209.4 332.4 L209.9 332.6 L210.4 332.7 L210.9 332.9 L211.4 333.0 L211.9 333.1 L212.4 333.3 L212.9 333.4 L213.4 333.5 L213.9 333.6 L214.4 333.7 L214.9 333.9 L215.4 334.0 L215.9 334.0 L216.4 334.1 L216.9 334.2 L217.4 334.3 L217.9 334.4 L218.4 334.5 L218.9 334.5 L219.4 334.6 L219.9 334.7 L220.4 334.7 L220.9 334.8 L221.4 334.8 L221.9 334.9 L222.4 334.9 L222.9 335.0 L223.4 335.0 L223.9 335.0 L224.4 335.1 L224.9 335.1 L225.4 335.1 L225.9 335.2" stroke="#e83030" stroke-width="1.4" fill="none" stroke-linejoin="round"/>
<circle cx="176.0" cy="330.3" r="0.75" fill="#222"/>
<circle cx="182.0" cy="329.8" r="0.75" fill="#222"/>
<circle cx="188.0" cy="328.2" r="0.75" fill="#222"/>
<circle cx="194.0" cy="328.6" r="0.75" fill="#222"/>
<circle cx="200.0" cy="326.9" r="0.75" fill="#222"/>
<circle cx="204.0" cy="320.2" r="0.75" fill="#222"/>
<circle cx="207.0" cy="308.3" r="0.75" fill="#222"/>
<circle cx="210.0" cy="289.5" r="0.75" fill="#222"/>
<circle cx="220.0" cy="291.1" r="0.75" fill="#222"/>
<circle cx="224.0" cy="320.8" r="0.75" fill="#222"/>
<circle cx="226.0" cy="328.4" r="0.75" fill="#222"/>
<text transform="translate(26.6,222.5) rotate(-90)" x="0" y="0" font-size="6.6" text-anchor="middle" font-weight="bold" font-family="'Liberation Sans', Arial, sans-serif" stroke="#000" stroke-width="0.22" dominant-baseline="central">300°C anneal/</text>
<text transform="translate(35.3,222.5) rotate(-90)" x="0" y="0" font-size="6.6" text-anchor="middle" font-weight="bold" font-family="'Liberation Sans', Arial, sans-serif" stroke="#000" stroke-width="0.22" dominant-baseline="central">25°C TDMAT/25°C H<tspan font-size="62%" baseline-shift="-30%">2</tspan>O<tspan font-size="62%" baseline-shift="-30%">2</tspan></text>
<text transform="translate(43.9,222.5) rotate(-90)" x="0" y="0" font-size="6.6" text-anchor="middle" font-weight="bold" font-family="'Liberation Sans', Arial, sans-serif" stroke="#000" stroke-width="0.22" dominant-baseline="central">/H/Si<tspan font-size="62%" baseline-shift="-30%">0.5</tspan>Ge<tspan font-size="62%" baseline-shift="-30%">0.5</tspan>(110)</text>
<text transform="translate(35.3,308) rotate(-90)" x="0" y="0" font-size="6.6" text-anchor="middle" font-weight="bold" font-family="'Liberation Sans', Arial, sans-serif" stroke="#000" stroke-width="0.22" dominant-baseline="central">25°C TDMAT/25°C H<tspan font-size="62%" baseline-shift="-30%">2</tspan>O<tspan font-size="62%" baseline-shift="-30%">2</tspan></text>
<text transform="translate(44.1,308) rotate(-90)" x="0" y="0" font-size="6.6" text-anchor="middle" font-weight="bold" font-family="'Liberation Sans', Arial, sans-serif" stroke="#000" stroke-width="0.22" dominant-baseline="central">/H/Si<tspan font-size="62%" baseline-shift="-30%">0.5</tspan>Ge<tspan font-size="62%" baseline-shift="-30%">0.5</tspan>(110)</text>
<text x="263.3" y="181.1" font-size="11.5" text-anchor="start" font-weight="bold" fill="#000" font-family="'Liberation Sans', Arial, sans-serif" >(e)</text>
<text x="319" y="182.2" font-size="12" text-anchor="start" font-weight="bold" fill="#22a05a" font-family="'Liberation Sans', Arial, sans-serif" >Ge 3d</text>
<text x="427.8" y="182.2" font-size="12" text-anchor="start" font-weight="bold" fill="#5c3290" font-family="'Liberation Sans', Arial, sans-serif" >Si 2p</text>
<path d="M313.8 191.2V342.5" stroke="#808080" stroke-width="1" fill="none"/>
<path d="M313.3 342.5H410.3" stroke="#606060" stroke-width="1" fill="none"/>
<line x1="313.8" y1="342.5" x2="313.8" y2="340.5" stroke="#808080" stroke-width="0.8"/>
<text x="313.8" y="349.5" font-size="5.9" text-anchor="middle" font-weight="bold" fill="#333" font-family="'Liberation Sans', Arial, sans-serif" stroke="#333" stroke-width="0.22" >36</text>
<line x1="329.9" y1="342.5" x2="329.9" y2="340.5" stroke="#808080" stroke-width="0.8"/>
<text x="329.9" y="349.5" font-size="5.9" text-anchor="middle" font-weight="bold" fill="#333" font-family="'Liberation Sans', Arial, sans-serif" stroke="#333" stroke-width="0.22" >34</text>
<line x1="346.0" y1="342.5" x2="346.0" y2="340.5" stroke="#808080" stroke-width="0.8"/>
<text x="346.0" y="349.5" font-size="5.9" text-anchor="middle" font-weight="bold" fill="#333" font-family="'Liberation Sans', Arial, sans-serif" stroke="#333" stroke-width="0.22" >32</text>
<line x1="362.1" y1="342.5" x2="362.1" y2="340.5" stroke="#808080" stroke-width="0.8"/>
<text x="362.1" y="349.5" font-size="5.9" text-anchor="middle" font-weight="bold" fill="#333" font-family="'Liberation Sans', Arial, sans-serif" stroke="#333" stroke-width="0.22" >30</text>
<line x1="378.1" y1="342.5" x2="378.1" y2="340.5" stroke="#808080" stroke-width="0.8"/>
<text x="378.1" y="349.5" font-size="5.9" text-anchor="middle" font-weight="bold" fill="#333" font-family="'Liberation Sans', Arial, sans-serif" stroke="#333" stroke-width="0.22" >28</text>
<line x1="394.2" y1="342.5" x2="394.2" y2="340.5" stroke="#808080" stroke-width="0.8"/>
<text x="394.2" y="349.5" font-size="5.9" text-anchor="middle" font-weight="bold" fill="#333" font-family="'Liberation Sans', Arial, sans-serif" stroke="#333" stroke-width="0.22" >26</text>
<line x1="410.3" y1="342.5" x2="410.3" y2="340.5" stroke="#808080" stroke-width="0.8"/>
<text x="410.3" y="349.5" font-size="5.9" text-anchor="middle" font-weight="bold" fill="#333" font-family="'Liberation Sans', Arial, sans-serif" stroke="#333" stroke-width="0.22" >24</text>
<line x1="305.8" y1="342.5" x2="305.8" y2="341.5" stroke="#808080" stroke-width="0.6"/>
<line x1="321.8" y1="342.5" x2="321.8" y2="341.5" stroke="#808080" stroke-width="0.6"/>
<line x1="337.9" y1="342.5" x2="337.9" y2="341.5" stroke="#808080" stroke-width="0.6"/>
<line x1="354.0" y1="342.5" x2="354.0" y2="341.5" stroke="#808080" stroke-width="0.6"/>
<line x1="370.1" y1="342.5" x2="370.1" y2="341.5" stroke="#808080" stroke-width="0.6"/>
<line x1="386.2" y1="342.5" x2="386.2" y2="341.5" stroke="#808080" stroke-width="0.6"/>
<path d="M420.8 191.2V342.5" stroke="#808080" stroke-width="1" fill="none"/>
<path d="M420.3 342.5H517.0" stroke="#606060" stroke-width="1" fill="none"/>
<line x1="430.4" y1="342.5" x2="430.4" y2="340.5" stroke="#808080" stroke-width="0.8"/>
<text x="430.4" y="349.5" font-size="5.9" text-anchor="middle" font-weight="bold" fill="#333" font-family="'Liberation Sans', Arial, sans-serif" stroke="#333" stroke-width="0.22" >104</text>
<line x1="449.7" y1="342.5" x2="449.7" y2="340.5" stroke="#808080" stroke-width="0.8"/>
<text x="449.7" y="349.5" font-size="5.9" text-anchor="middle" font-weight="bold" fill="#333" font-family="'Liberation Sans', Arial, sans-serif" stroke="#333" stroke-width="0.22" >102</text>
<line x1="468.9" y1="342.5" x2="468.9" y2="340.5" stroke="#808080" stroke-width="0.8"/>
<text x="468.9" y="349.5" font-size="5.9" text-anchor="middle" font-weight="bold" fill="#333" font-family="'Liberation Sans', Arial, sans-serif" stroke="#333" stroke-width="0.22" >100</text>
<line x1="488.1" y1="342.5" x2="488.1" y2="340.5" stroke="#808080" stroke-width="0.8"/>
<text x="488.1" y="349.5" font-size="5.9" text-anchor="middle" font-weight="bold" fill="#333" font-family="'Liberation Sans', Arial, sans-serif" stroke="#333" stroke-width="0.22" >98</text>
<line x1="507.4" y1="342.5" x2="507.4" y2="340.5" stroke="#808080" stroke-width="0.8"/>
<text x="507.4" y="349.5" font-size="5.9" text-anchor="middle" font-weight="bold" fill="#333" font-family="'Liberation Sans', Arial, sans-serif" stroke="#333" stroke-width="0.22" >96</text>
<line x1="420.8" y1="342.5" x2="420.8" y2="341.5" stroke="#808080" stroke-width="0.6"/>
<line x1="440.0" y1="342.5" x2="440.0" y2="341.5" stroke="#808080" stroke-width="0.6"/>
<line x1="459.3" y1="342.5" x2="459.3" y2="341.5" stroke="#808080" stroke-width="0.6"/>
<line x1="478.5" y1="342.5" x2="478.5" y2="341.5" stroke="#808080" stroke-width="0.6"/>
<line x1="497.8" y1="342.5" x2="497.8" y2="341.5" stroke="#808080" stroke-width="0.6"/>
<line x1="517.0" y1="342.5" x2="517.0" y2="341.5" stroke="#808080" stroke-width="0.6"/>
<text x="362.05" y="356.9" font-size="8.0" text-anchor="middle" font-weight="normal" fill="#2a2a2a" font-family="'Liberation Sans', Arial, sans-serif" stroke="#2a2a2a" stroke-width="0.1" letter-spacing="0.17">Binding Energy (eV)</text>
<text x="468.9" y="356.9" font-size="8.0" text-anchor="middle" font-weight="normal" fill="#2a2a2a" font-family="'Liberation Sans', Arial, sans-serif" stroke="#2a2a2a" stroke-width="0.1" letter-spacing="0.17">Binding Energy (eV)</text>
<path d="M313.8 262.4 L314.5 262.8 L315.2 263.1 L315.9 263.6 L316.6 263.5 L317.3 263.8 L318.0 262.4 L318.7 262.3 L319.4 263.1 L320.1 263.1 L320.8 263.5 L321.5 262.4 L322.3 262.4 L323.0 261.9 L323.7 262.2 L324.4 262.5 L325.1 261.6 L325.8 261.5 L326.5 261.5 L327.2 262.7 L327.9 263.1 L328.6 262.3 L329.3 263.0 L330.0 262.2 L330.7 262.6 L331.4 261.9 L332.1 261.3 L332.8 262.6 L333.5 262.1 L334.2 261.8 L334.9 263.1 L335.6 263.6 L336.3 262.9 L337.0 263.7 L337.7 263.4 L338.5 263.5 L339.2 262.8 L339.9 263.1 L340.6 263.1 L341.3 263.3 L342.0 263.4 L342.7 263.1 L343.4 263.0 L344.1 262.8 L344.8 262.7 L345.5 262.5 L346.2 262.6 L346.9 262.9 L347.6 262.7 L348.3 262.9 L349.0 262.9 L349.7 262.9 L350.4 263.1 L351.1 263.1 L351.8 263.1 L352.5 263.2 L353.2 263.2 L353.9 263.2 L354.7 263.2 L355.4 263.2 L356.1 263.3 L356.8 263.3 L357.5 263.3 L358.2 263.3 L358.9 263.3 L359.6 263.3 L360.3 263.4 L361.0 263.4 L361.7 263.4 L362.4 263.4 L363.1 263.4 L363.8 263.4 L364.5 263.5 L365.2 263.5 L365.9 263.5 L366.6 263.5 L367.3 263.5 L368.0 263.5 L368.7 263.6 L369.4 263.6 L370.2 263.6 L370.9 263.6 L371.6 263.6 L372.3 263.7 L373.0 263.7 L373.7 263.7 L374.4 263.7 L375.1 263.7 L375.8 263.7 L376.5 263.8 L377.2 263.8 L377.9 263.8 L378.6 263.8 L379.3 263.8 L380.0 263.8 L380.7 263.9 L381.4 263.9 L382.1 263.9 L382.8 263.9 L383.5 263.9 L384.2 264.0 L384.9 264.0 L385.6 264.0 L386.4 263.9 L387.1 264.0 L387.8 264.2 L388.5 264.1 L389.2 264.1 L389.9 263.8 L390.6 264.2 L391.3 263.9 L392.0 264.0 L392.7 264.3 L393.4 264.0 L394.1 264.2 L394.8 264.5 L395.5 264.5 L396.2 264.6 L396.9 264.2 L397.6 264.2 L398.3 264.1 L399.0 264.4 L399.7 264.2 L400.4 264.3 L401.1 264.6 L401.8 264.8 L402.6 264.9 L403.3 264.7 L404.0 264.6 L404.7 264.7 L405.4 264.6 L406.1 264.4 L406.8 264.4 L407.5 264.3 L408.2 264.3 L408.9 264.7 L409.6 265.0 L410.3 264.9" stroke="#2424cc" stroke-width="1.4" fill="none"/>
<path d="M349.8 262.5 L350.3 262.4 L350.8 262.3 L351.3 262.1 L351.8 261.8 L352.3 261.5 L352.8 261.2 L353.3 260.9 L353.8 260.4 L354.3 260.0 L354.8 259.4 L355.3 258.9 L355.8 258.2 L356.3 257.5 L356.8 256.7 L357.3 255.9 L357.8 255.0 L358.3 254.1 L358.8 253.1 L359.3 252.0 L359.8 250.8 L360.3 249.5 L360.8 248.1 L361.3 246.6 L361.8 244.9 L362.3 243.1 L362.8 241.1 L363.3 238.9 L363.8 236.5 L364.3 233.9 L364.8 231.2 L365.3 228.2 L365.8 225.1 L366.3 221.9 L366.8 218.6 L367.3 215.3 L367.8 212.1 L368.3 209.0 L368.8 206.0 L369.3 203.4 L369.8 201.1 L370.3 199.2 L370.8 197.8 L371.3 196.9 L371.8 196.6 L372.3 196.9 L372.8 197.8 L373.3 199.3 L373.8 201.3 L374.3 203.7 L374.8 206.7 L375.3 209.9 L375.8 213.5 L376.3 217.3 L376.8 221.2 L377.3 225.1 L377.8 229.1 L378.3 232.9 L378.8 236.5 L379.3 240.0 L379.8 243.2 L380.3 246.2 L380.8 248.9 L381.3 251.3 L381.8 253.4 L382.3 255.2 L382.8 256.8 L383.3 258.2 L383.8 259.3 L384.3 260.3 L384.8 261.1 L385.3 261.7 L385.8 262.3 L386.3 262.7 L386.8 263.0 L387.3 263.3 L387.8 263.5" stroke="#3ad83a" stroke-width="1.4" fill="none" stroke-linejoin="round"/>
<circle cx="391.4" cy="263.0" r="0.75" fill="#222"/>
<path d="M313.8 334.5 L314.5 334.9 L315.2 334.6 L315.9 334.0 L316.6 333.1 L317.3 333.8 L318.0 333.9 L318.7 334.5 L319.4 334.2 L320.1 334.7 L320.8 334.1 L321.5 334.8 L322.3 335.0 L323.0 334.6 L323.7 334.6 L324.4 334.8 L325.1 334.2 L325.8 334.4 L326.5 335.0 L327.2 334.4 L327.9 335.0 L328.6 335.1 L329.3 335.5 L330.0 334.9 L330.7 334.2 L331.4 334.8 L332.1 335.2 L332.8 334.9 L333.5 334.4 L334.2 334.3 L334.9 334.7 L335.6 334.7 L336.3 334.9 L337.0 334.9 L337.7 334.9 L338.5 334.9 L339.2 334.9 L339.9 335.0 L340.6 335.0 L341.3 335.0 L342.0 335.1 L342.7 335.1 L343.4 335.1 L344.1 335.1 L344.8 335.2 L345.5 335.2 L346.2 335.2 L346.9 335.2 L347.6 335.3 L348.3 335.3 L349.0 335.3 L349.7 335.3 L350.4 335.4 L351.1 335.4 L351.8 335.4 L352.5 335.4 L353.2 335.5 L353.9 335.5 L354.7 335.5 L355.4 335.6 L356.1 335.6 L356.8 335.6 L357.5 335.6 L358.2 335.7 L358.9 335.7 L359.6 335.7 L360.3 335.7 L361.0 335.8 L361.7 335.8 L362.4 335.8 L363.1 335.8 L363.8 335.9 L364.5 335.9 L365.2 335.9 L365.9 335.9 L366.6 336.0 L367.3 336.0 L368.0 336.0 L368.7 336.0 L369.4 336.1 L370.2 336.1 L370.9 336.1 L371.6 336.2 L372.3 336.2 L373.0 336.2 L373.7 336.2 L374.4 336.3 L375.1 336.3 L375.8 336.3 L376.5 336.3 L377.2 336.4 L377.9 336.4 L378.6 336.4 L379.3 336.4 L380.0 336.5 L380.7 336.5 L381.4 336.5 L382.1 336.5 L382.8 336.6 L383.5 336.6 L384.2 336.6 L384.9 336.7 L385.6 336.7 L386.4 336.7 L387.1 336.9 L387.8 336.9 L388.5 336.8 L389.2 336.8 L389.9 336.8 L390.6 336.6 L391.3 336.7 L392.0 336.7 L392.7 337.0 L393.4 336.9 L394.1 337.0 L394.8 337.3 L395.5 337.5 L396.2 337.3 L396.9 337.3 L397.6 337.1 L398.3 337.1 L399.0 337.1 L399.7 337.4 L400.4 337.6 L401.1 337.3 L401.8 337.0 L402.6 337.1 L403.3 337.0 L404.0 336.9 L404.7 337.3 L405.4 337.1 L406.1 337.4 L406.8 337.4 L407.5 337.7 L408.2 337.8 L408.9 337.5 L409.6 337.3 L410.3 337.7" stroke="#2424cc" stroke-width="1.4" fill="none"/>
<path d="M347.9 334.7 L348.4 334.6 L348.9 334.5 L349.4 334.3 L349.9 334.1 L350.4 333.8 L350.9 333.6 L351.4 333.2 L351.9 332.8 L352.4 332.4 L352.9 331.9 L353.4 331.3 L353.9 330.7 L354.4 330.0 L354.9 329.2 L355.4 328.3 L356.0 327.3 L356.5 326.2 L357.0 325.0 L357.5 323.7 L358.0 322.3 L358.5 320.7 L359.0 319.1 L359.5 317.2 L360.0 315.2 L360.5 313.1 L361.0 310.8 L361.5 308.4 L362.0 305.8 L362.5 303.1 L363.0 300.3 L363.5 297.4 L364.0 294.4 L364.5 291.4 L365.0 288.5 L365.5 285.7 L366.0 283.0 L366.5 280.4 L367.0 278.1 L367.5 276.1 L368.0 274.5 L368.5 273.2 L369.0 272.4 L369.5 272.0 L370.0 272.1 L370.5 272.7 L371.0 273.7 L371.6 275.2 L372.1 277.1 L372.6 279.4 L373.1 282.0 L373.6 285.0 L374.1 288.1 L374.6 291.5 L375.1 294.9 L375.6 298.4 L376.1 301.9 L376.6 305.3 L377.1 308.6 L377.6 311.8 L378.1 314.7 L378.6 317.5 L379.1 320.1 L379.6 322.4 L380.1 324.5 L380.6 326.4 L381.1 328.1 L381.6 329.5 L382.1 330.8 L382.6 331.9 L383.1 332.8 L383.6 333.5 L384.1 334.2 L384.6 334.7 L385.1 335.2 L385.6 335.5 L386.1 335.8 L386.6 336.0 L387.1 336.2" stroke="#3ad83a" stroke-width="1.4" fill="none" stroke-linejoin="round"/>
<path d="M330.0 334.3 L330.6 334.3 L331.1 334.2 L331.6 334.2 L332.1 334.1 L332.6 334.1 L333.1 334.0 L333.6 333.9 L334.1 333.8 L334.6 333.6 L335.1 333.5 L335.6 333.4 L336.1 333.2 L336.6 333.0 L337.1 332.8 L337.6 332.5 L338.1 332.3 L338.6 332.0 L339.1 331.7 L339.6 331.4 L340.1 331.1 L340.6 330.8 L341.1 330.4 L341.6 330.0 L342.1 329.6 L342.6 329.3 L343.1 328.9 L343.6 328.4 L344.1 328.0 L344.6 327.6 L345.1 327.2 L345.6 326.8 L346.1 326.5 L346.6 326.1 L347.1 325.8 L347.6 325.4 L348.1 325.1 L348.6 324.9 L349.1 324.7 L349.6 324.5 L350.1 324.3 L350.6 324.2 L351.1 324.1 L351.6 324.1 L352.2 324.1 L352.7 324.2 L353.2 324.3 L353.7 324.5 L354.2 324.6 L354.7 324.9 L355.2 325.1 L355.7 325.4 L356.2 325.8 L356.7 326.1 L357.2 326.5 L357.7 326.9 L358.2 327.3 L358.7 327.7 L359.2 328.2 L359.7 328.6 L360.2 329.1 L360.7 329.5 L361.2 329.9 L361.7 330.4 L362.2 330.8 L362.7 331.2 L363.2 331.6 L363.7 332.0 L364.2 332.3 L364.7 332.7 L365.2 333.0 L365.7 333.3 L366.2 333.6 L366.7 333.9 L367.2 334.1 L367.7 334.4 L368.2 334.6 L368.7 334.8 L369.2 334.9 L369.7 335.1 L370.2 335.3 L370.7 335.4 L371.2 335.5 L371.7 335.6 L372.2 335.7 L372.7 335.8 L373.2 335.9 L373.8 335.9" stroke="#e83030" stroke-width="1.4" fill="none" stroke-linejoin="round"/>
<circle cx="356.5" cy="318.0" r="0.75" fill="#222"/>
<circle cx="358.0" cy="311.0" r="0.75" fill="#222"/>
<circle cx="359.5" cy="303.5" r="0.75" fill="#222"/>
<circle cx="361.0" cy="296.0" r="0.75" fill="#222"/>
<circle cx="362.5" cy="288.0" r="0.75" fill="#222"/>
<circle cx="364.0" cy="280.5" r="0.75" fill="#222"/>
<circle cx="366.0" cy="274.0" r="0.75" fill="#222"/>
<circle cx="368.5" cy="272.0" r="0.75" fill="#222"/>
<path d="M420.8 256.4 L421.5 256.4 L422.2 256.5 L422.9 256.5 L423.6 256.6 L424.3 256.7 L425.0 256.7 L425.7 256.8 L426.4 256.8 L427.1 256.9 L427.8 256.9 L428.5 256.9 L429.2 257.0 L429.9 257.0 L430.6 257.1 L431.3 257.1 L432.0 257.1 L432.7 257.2 L433.4 257.2 L434.1 257.3 L434.8 257.3 L435.5 257.3 L436.2 257.4 L437.0 257.4 L437.7 257.5 L438.4 257.5 L439.1 257.5 L439.8 257.6 L440.5 257.6 L441.2 257.7 L441.9 257.7 L442.6 257.7 L443.3 257.8 L444.0 257.8 L444.7 257.9 L445.4 257.9 L446.1 257.9 L446.8 258.0 L447.5 258.0 L448.2 258.1 L448.9 258.1 L449.6 258.1 L450.3 258.2 L451.0 258.2 L451.7 258.3 L452.4 258.3 L453.1 258.3 L453.8 258.4 L454.5 258.4 L455.2 258.5 L455.9 258.5 L456.6 258.5 L457.3 258.6 L458.0 258.6 L458.7 258.7 L459.4 258.7 L460.1 258.7 L460.8 258.8 L461.5 258.8 L462.2 258.9 L462.9 258.9 L463.6 258.9 L464.3 259.0 L465.0 259.0 L465.7 259.1 L466.4 259.1 L467.1 259.1 L467.8 259.2 L468.5 259.2 L469.3 259.3 L470.0 259.3 L470.7 259.4 L471.4 259.4 L472.1 259.4 L472.8 259.5 L473.5 259.5 L474.2 259.6 L474.9 259.6 L475.6 259.6 L476.3 259.7 L477.0 259.7 L477.7 259.8 L478.4 259.8 L479.1 259.8 L479.8 259.9 L480.5 259.9 L481.2 260.0 L481.9 260.0 L482.6 260.0 L483.3 260.1 L484.0 260.1 L484.7 260.2 L485.4 260.2 L486.1 260.2 L486.8 260.3 L487.5 260.3 L488.2 260.4 L488.9 260.4 L489.6 260.4 L490.3 260.5 L491.0 260.5 L491.7 260.6 L492.4 260.6 L493.1 260.5 L493.8 260.6 L494.5 260.4 L495.2 259.8 L495.9 260.0 L496.6 260.1 L497.3 260.6 L498.0 261.5 L498.7 261.7 L499.4 261.4 L500.1 261.5 L500.8 261.7 L501.6 260.7 L502.3 261.6 L503.0 262.0 L503.7 262.4 L504.4 262.5 L505.1 261.9 L505.8 261.5 L506.5 260.8 L507.2 261.3 L507.9 260.6 L508.6 260.2 L509.3 260.3 L510.0 260.2 L510.7 260.5 L511.4 260.2 L512.1 259.9 L512.8 260.1 L513.5 260.1 L514.2 260.6 L514.9 260.3 L515.6 261.6 L516.3 262.0 L517.0 261.4" stroke="#2424cc" stroke-width="1.4" fill="none"/>
<path d="M461.1 258.3 L461.6 258.1 L462.1 257.9 L462.6 257.6 L463.1 257.3 L463.6 256.9 L464.1 256.4 L464.6 255.8 L465.1 255.0 L465.6 254.1 L466.1 253.1 L466.6 251.9 L467.1 250.5 L467.6 249.0 L468.1 247.2 L468.6 245.3 L469.1 243.1 L469.6 240.8 L470.1 238.3 L470.6 235.6 L471.1 232.8 L471.6 229.9 L472.1 226.8 L472.6 223.7 L473.1 220.6 L473.6 217.5 L474.1 214.5 L474.6 211.5 L475.1 208.7 L475.6 206.2 L476.1 203.8 L476.6 201.8 L477.1 200.1 L477.6 198.7 L478.1 197.8 L478.6 197.4 L479.1 197.4 L479.6 197.9 L480.1 198.8 L480.6 200.3 L481.1 202.1 L481.6 204.4 L482.1 207.1 L482.6 210.0 L483.1 213.3 L483.6 216.7 L484.1 220.2 L484.6 223.8 L485.1 227.4 L485.6 230.9 L486.1 234.3 L486.6 237.5 L487.1 240.5 L487.6 243.3 L488.1 245.9 L488.6 248.2 L489.1 250.2 L489.6 252.0 L490.1 253.6 L490.6 254.9 L491.1 256.1 L491.6 257.0 L492.1 257.8 L492.6 258.4 L493.1 259.0 L493.6 259.4 L494.1 259.7 L494.6 260.0 L495.1 260.2" stroke="#7d2696" stroke-width="1.4" fill="none" stroke-linejoin="round"/>
<path d="M420.8 255.7 L421.3 255.6 L421.8 255.5 L422.3 255.5 L422.8 255.3 L423.3 255.2 L423.8 255.1 L424.3 254.9 L424.8 254.8 L425.3 254.6 L425.8 254.4 L426.3 254.2 L426.8 254.0 L427.4 253.7 L427.9 253.4 L428.4 253.2 L428.9 252.8 L429.4 252.5 L429.9 252.2 L430.4 251.8 L430.9 251.5 L431.4 251.1 L431.9 250.7 L432.4 250.2 L432.9 249.8 L433.4 249.3 L433.9 248.9 L434.4 248.4 L434.9 248.0 L435.4 247.5 L435.9 247.0 L436.4 246.5 L436.9 246.0 L437.4 245.6 L437.9 245.1 L438.4 244.7 L438.9 244.2 L439.4 243.8 L440.0 243.4 L440.5 243.0 L441.0 242.7 L441.5 242.4 L442.0 242.1 L442.5 241.8 L443.0 241.6 L443.5 241.4 L444.0 241.3 L444.5 241.1 L445.0 241.1 L445.5 241.0 L446.0 241.0 L446.5 241.1 L447.0 241.2 L447.5 241.3 L448.0 241.5 L448.5 241.7 L449.0 241.9 L449.5 242.2 L450.0 242.5 L450.5 242.9 L451.0 243.3 L451.5 243.7 L452.0 244.1 L452.6 244.6 L453.1 245.0 L453.6 245.5 L454.1 246.0 L454.6 246.6 L455.1 247.1 L455.6 247.6 L456.1 248.2 L456.6 248.7 L457.1 249.2 L457.6 249.8 L458.1 250.3 L458.6 250.8 L459.1 251.3 L459.6 251.8 L460.1 252.3 L460.6 252.7 L461.1 253.2 L461.6 253.6 L462.1 254.0 L462.6 254.4 L463.1 254.8 L463.6 255.2 L464.1 255.5 L464.6 255.8 L465.2 256.1 L465.7 256.4 L466.2 256.7 L466.7 257.0 L467.2 257.2 L467.7 257.4 L468.2 257.6 L468.7 257.8 L469.2 258.0 L469.7 258.2 L470.2 258.3 L470.7 258.5 L471.2 258.6" stroke="#e83030" stroke-width="1.4" fill="none" stroke-linejoin="round"/>
<circle cx="425.0" cy="254.8" r="0.75" fill="#222"/>
<circle cx="433.0" cy="250.3" r="0.75" fill="#222"/>
<circle cx="440.0" cy="244.3" r="0.75" fill="#222"/>
<circle cx="444.0" cy="240.8" r="0.75" fill="#222"/>
<circle cx="447.0" cy="241.7" r="0.75" fill="#222"/>
<circle cx="451.0" cy="243.7" r="0.75" fill="#222"/>
<circle cx="458.0" cy="250.4" r="0.75" fill="#222"/>
<circle cx="461.0" cy="251.8" r="0.75" fill="#222"/>
<circle cx="466.0" cy="249.8" r="0.75" fill="#222"/>
<circle cx="470.0" cy="237.3" r="0.75" fill="#222"/>
<circle cx="474.0" cy="214.9" r="0.75" fill="#222"/>
<circle cx="487.0" cy="239.7" r="0.75" fill="#222"/>
<circle cx="491.0" cy="256.0" r="0.75" fill="#222"/>
<circle cx="497.0" cy="260.3" r="0.75" fill="#222"/>
<circle cx="503.0" cy="261.9" r="0.75" fill="#222"/>
<path d="M420.8 331.8 L421.5 332.2 L422.2 331.9 L422.9 332.1 L423.6 331.9 L424.3 331.8 L425.0 332.2 L425.7 332.0 L426.4 332.1 L427.1 332.1 L427.8 332.1 L428.5 332.1 L429.2 332.0 L429.9 332.3 L430.6 332.1 L431.3 332.0 L432.0 331.9 L432.7 332.0 L433.4 332.1 L434.1 332.3 L434.8 332.3 L435.5 332.2 L436.2 332.2 L437.0 332.4 L437.7 332.3 L438.4 332.4 L439.1 332.4 L439.8 332.4 L440.5 332.4 L441.2 332.4 L441.9 332.4 L442.6 332.5 L443.3 332.5 L444.0 332.5 L444.7 332.5 L445.4 332.5 L446.1 332.5 L446.8 332.5 L447.5 332.6 L448.2 332.6 L448.9 332.6 L449.6 332.6 L450.3 332.6 L451.0 332.6 L451.7 332.6 L452.4 332.7 L453.1 332.7 L453.8 332.7 L454.5 332.7 L455.2 332.7 L455.9 332.7 L456.6 332.7 L457.3 332.8 L458.0 332.8 L458.7 332.8 L459.4 332.8 L460.1 332.8 L460.8 332.8 L461.5 332.8 L462.2 332.9 L462.9 332.9 L463.6 332.9 L464.3 332.9 L465.0 332.9 L465.7 332.9 L466.4 332.9 L467.1 333.0 L467.8 333.0 L468.5 333.0 L469.3 333.0 L470.0 333.0 L470.7 333.0 L471.4 333.1 L472.1 333.1 L472.8 333.1 L473.5 333.1 L474.2 333.1 L474.9 333.1 L475.6 333.1 L476.3 333.2 L477.0 333.2 L477.7 333.2 L478.4 333.2 L479.1 333.2 L479.8 333.2 L480.5 333.2 L481.2 333.3 L481.9 333.3 L482.6 333.3 L483.3 333.3 L484.0 333.3 L484.7 333.3 L485.4 333.3 L486.1 333.4 L486.8 333.4 L487.5 333.4 L488.2 333.4 L488.9 333.4 L489.6 333.4 L490.3 333.4 L491.0 333.4 L491.7 333.0 L492.4 333.0 L493.1 333.2 L493.8 333.7 L494.5 333.4 L495.2 334.2 L495.9 333.1 L496.6 333.9 L497.3 333.3 L498.0 334.1 L498.7 333.1 L499.4 334.1 L500.1 334.4 L500.8 335.0 L501.6 334.6 L502.3 333.7 L503.0 334.5 L503.7 334.1 L504.4 333.2 L505.1 333.6 L505.8 333.7 L506.5 333.7 L507.2 333.1 L507.9 332.7 L508.6 333.3 L509.3 333.5 L510.0 332.9 L510.7 333.2 L511.4 333.9 L512.1 334.3 L512.8 334.1 L513.5 333.8 L514.2 333.6 L514.9 333.3 L515.6 333.0 L516.3 333.3 L517.0 332.9" stroke="#2424cc" stroke-width="1.4" fill="none"/>
<path d="M459.5 332.3 L460.0 332.1 L460.5 331.9 L461.0 331.7 L461.5 331.3 L462.0 330.9 L462.5 330.5 L463.0 329.9 L463.5 329.2 L464.0 328.3 L464.5 327.3 L465.0 326.2 L465.5 324.9 L466.0 323.4 L466.5 321.8 L467.0 320.0 L467.5 317.9 L468.0 315.7 L468.5 313.4 L469.0 310.8 L469.5 308.1 L470.0 305.3 L470.5 302.3 L471.0 299.3 L471.5 296.3 L472.0 293.2 L472.5 290.2 L473.1 287.3 L473.6 284.5 L474.1 281.9 L474.6 279.5 L475.1 277.5 L475.6 275.7 L476.1 274.4 L476.6 273.5 L477.1 273.1 L477.6 273.2 L478.1 273.7 L478.6 274.8 L479.1 276.3 L479.6 278.2 L480.1 280.6 L480.6 283.3 L481.1 286.3 L481.6 289.6 L482.1 293.0 L482.6 296.5 L483.1 300.0 L483.6 303.5 L484.1 306.9 L484.6 310.1 L485.1 313.1 L485.6 316.0 L486.1 318.5 L486.7 320.9 L487.2 322.9 L487.7 324.8 L488.2 326.4 L488.7 327.7 L489.2 328.9 L489.7 329.8 L490.2 330.6 L490.7 331.2 L491.2 331.8 L491.7 332.2 L492.2 332.5 L492.7 332.8 L493.2 333.0" stroke="#7d2696" stroke-width="1.4" fill="none" stroke-linejoin="round"/>
<path d="M430.3 331.8 L430.8 331.7 L431.3 331.7 L431.8 331.7 L432.3 331.6 L432.8 331.6 L433.3 331.5 L433.8 331.5 L434.4 331.4 L434.9 331.3 L435.4 331.3 L435.9 331.2 L436.4 331.1 L436.9 331.0 L437.4 330.9 L437.9 330.8 L438.4 330.7 L438.9 330.6 L439.4 330.5 L439.9 330.4 L440.4 330.3 L440.9 330.2 L441.4 330.1 L441.9 329.9 L442.4 329.8 L442.9 329.7 L443.4 329.5 L443.9 329.4 L444.4 329.3 L444.9 329.2 L445.4 329.0 L445.9 328.9 L446.4 328.8 L446.9 328.6 L447.4 328.5 L447.9 328.4 L448.5 328.3 L449.0 328.2 L449.5 328.1 L450.0 328.0 L450.5 327.9 L451.0 327.8 L451.5 327.8 L452.0 327.7 L452.5 327.6 L453.0 327.6 L453.5 327.6 L454.0 327.5 L454.5 327.5 L455.0 327.5 L455.5 327.5 L456.0 327.5 L456.5 327.6 L457.0 327.6 L457.5 327.6 L458.0 327.7 L458.5 327.8 L459.0 327.8 L459.5 327.9 L460.0 328.0 L460.5 328.1 L461.0 328.2 L461.5 328.3 L462.0 328.5 L462.5 328.6 L463.1 328.7 L463.6 328.9 L464.1 329.0 L464.6 329.2 L465.1 329.3 L465.6 329.4 L466.1 329.6 L466.6 329.7 L467.1 329.9 L467.6 330.1 L468.1 330.2 L468.6 330.4 L469.1 330.5 L469.6 330.6 L470.1 330.8 L470.6 330.9 L471.1 331.1 L471.6 331.2 L472.1 331.3 L472.6 331.4 L473.1 331.6 L473.6 331.7 L474.1 331.8 L474.6 331.9 L475.1 332.0 L475.6 332.1 L476.1 332.2 L476.6 332.3 L477.2 332.4 L477.7 332.4 L478.2 332.5 L478.7 332.6 L479.2 332.6 L479.7 332.7 L480.2 332.8 L480.7 332.8" stroke="#e83030" stroke-width="1.4" fill="none" stroke-linejoin="round"/>
<circle cx="447.0" cy="324.3" r="0.75" fill="#222"/>
<circle cx="450.5" cy="327.5" r="0.75" fill="#222"/>
<circle cx="461.0" cy="323.5" r="0.75" fill="#222"/>
<circle cx="465.0" cy="316.0" r="0.75" fill="#222"/>
<circle cx="467.5" cy="309.0" r="0.75" fill="#222"/>
<circle cx="469.0" cy="303.0" r="0.75" fill="#222"/>
<text transform="translate(290.0,229.7) rotate(-90)" x="0" y="0" font-size="6.6" text-anchor="middle" font-weight="bold" font-family="'Liberation Sans', Arial, sans-serif" stroke="#000" stroke-width="0.22" dominant-baseline="central">300°C anneal/</text>
<text transform="translate(298.4,229.7) rotate(-90)" x="0" y="0" font-size="6.6" text-anchor="middle" font-weight="bold" font-family="'Liberation Sans', Arial, sans-serif" stroke="#000" stroke-width="0.22" dominant-baseline="central">25°C TiCl<tspan font-size="62%" baseline-shift="-30%">4</tspan>/25°C H<tspan font-size="62%" baseline-shift="-30%">2</tspan>O<tspan font-size="62%" baseline-shift="-30%">2</tspan>/</text>
<text transform="translate(306.3,229.7) rotate(-90)" x="0" y="0" font-size="6.6" text-anchor="middle" font-weight="bold" font-family="'Liberation Sans', Arial, sans-serif" stroke="#000" stroke-width="0.22" dominant-baseline="central">Si<tspan font-size="62%" baseline-shift="-30%">0.5</tspan>Ge<tspan font-size="62%" baseline-shift="-30%">0.5</tspan>(110)</text>
<text transform="translate(298.1,304.5) rotate(-90)" x="0" y="0" font-size="6.6" text-anchor="middle" font-weight="bold" font-family="'Liberation Sans', Arial, sans-serif" stroke="#000" stroke-width="0.22" dominant-baseline="central">25°C TiCl<tspan font-size="62%" baseline-shift="-30%">4</tspan>/25°C H<tspan font-size="62%" baseline-shift="-30%">2</tspan>O<tspan font-size="62%" baseline-shift="-30%">2</tspan>/</text>
<text transform="translate(306.8,305) rotate(-90)" x="0" y="0" font-size="6.6" text-anchor="middle" font-weight="bold" font-family="'Liberation Sans', Arial, sans-serif" stroke="#000" stroke-width="0.22" dominant-baseline="central">Si<tspan font-size="62%" baseline-shift="-30%">0.5</tspan>Ge<tspan font-size="62%" baseline-shift="-30%">0.5</tspan>(110)</text>
<rect x="20.5" y="366.5" width="237.0" height="97.0" fill="none" stroke="#6d6d6d" stroke-width="1"/>
<line x1="152.5" y1="366.5" x2="152.5" y2="463.5" stroke="#6d6d6d" stroke-width="1"/>
<line x1="205.5" y1="366.5" x2="205.5" y2="463.5" stroke="#6d6d6d" stroke-width="1"/>
<line x1="20.5" y1="378.5" x2="257.5" y2="378.5" stroke="#6d6d6d" stroke-width="1"/>
<line x1="20.5" y1="427.5" x2="257.5" y2="427.5" stroke="#6d6d6d" stroke-width="1"/>
<text x="0.1" y="375.1" font-size="11.5" text-anchor="start" font-weight="bold" fill="#000" font-family="'Liberation Sans', Arial, sans-serif" >(c)</text>
<text x="179.0" y="375.5" font-size="10.5" text-anchor="middle" font-weight="bold" fill="#000" font-family="'Liberation Serif', 'Times New Roman', serif" stroke="#000" stroke-width="0.15">GeO<tspan font-size="62%" baseline-shift="-22%">x</tspan>/Ge</text>
<text x="231.5" y="375.5" font-size="10.5" text-anchor="middle" font-weight="bold" fill="#000" font-family="'Liberation Serif', 'Times New Roman', serif" stroke="#000" stroke-width="0.15">SiO<tspan font-size="62%" baseline-shift="-22%">x</tspan>/Si</text>
<text x="86.5" y="389.1" font-size="10.5" text-anchor="middle" font-weight="bold" fill="#000" font-family="'Liberation Serif', 'Times New Roman', serif" stroke="#000" stroke-width="0.15">300°C anneal/</text>
<text x="86.5" y="400.90000000000003" font-size="10.5" text-anchor="middle" font-weight="bold" fill="#000" font-family="'Liberation Serif', 'Times New Roman', serif" stroke="#000" stroke-width="0.15">25°C TDMAT/25°C H<tspan font-size="62%" baseline-shift="-22%">2</tspan>O<tspan font-size="62%" baseline-shift="-22%">2</tspan>/</text>
<text x="86.5" y="412.5" font-size="10.5" text-anchor="middle" font-weight="bold" fill="#000" font-family="'Liberation Serif', 'Times New Roman', serif" stroke="#000" stroke-width="0.15">300°C atomic H/</text>
<text x="86.5" y="424.2" font-size="10.5" text-anchor="middle" font-weight="bold" fill="#000" font-family="'Liberation Serif', 'Times New Roman', serif" stroke="#000" stroke-width="0.15">Si<tspan font-size="62%" baseline-shift="-22%">0.5</tspan>Ge<tspan font-size="62%" baseline-shift="-22%">0.5</tspan>(110)</text>
<text x="179.0" y="406.6" font-size="10.5" text-anchor="middle" font-weight="normal" fill="#000" font-family="'Liberation Serif', 'Times New Roman', serif" >0</text>
<text x="231.5" y="406.6" font-size="10.5" text-anchor="middle" font-weight="normal" fill="#000" font-family="'Liberation Serif', 'Times New Roman', serif" >0.24±0.02</text>
<text x="86.5" y="437.5" font-size="10.5" text-anchor="middle" font-weight="bold" fill="#000" font-family="'Liberation Serif', 'Times New Roman', serif" stroke="#000" stroke-width="0.15">25°C TDMAT/25°C H<tspan font-size="62%" baseline-shift="-22%">2</tspan>O<tspan font-size="62%" baseline-shift="-22%">2</tspan>/</text>
<text x="86.5" y="449.2" font-size="10.5" text-anchor="middle" font-weight="bold" fill="#000" font-family="'Liberation Serif', 'Times New Roman', serif" stroke="#000" stroke-width="0.15">300°C atomic H/</text>
<text x="86.5" y="460.5" font-size="10.5" text-anchor="middle" font-weight="bold" fill="#000" font-family="'Liberation Serif', 'Times New Roman', serif" stroke="#000" stroke-width="0.15">Si<tspan font-size="62%" baseline-shift="-22%">0.5</tspan>Ge<tspan font-size="62%" baseline-shift="-22%">0.5</tspan>(110)</text>
<text x="179.0" y="449.40000000000003" font-size="10.5" text-anchor="middle" font-weight="normal" fill="#000" font-family="'Liberation Serif', 'Times New Roman', serif" >0.08±0.01</text>
<text x="231.5" y="449.40000000000003" font-size="10.5" text-anchor="middle" font-weight="normal" fill="#000" font-family="'Liberation Serif', 'Times New Roman', serif" >0.20±0.02</text>
<rect x="282.5" y="366.5" width="237.0" height="73.0" fill="none" stroke="#6d6d6d" stroke-width="1"/>
<line x1="414.5" y1="366.5" x2="414.5" y2="439.5" stroke="#6d6d6d" stroke-width="1"/>
<line x1="467.5" y1="366.5" x2="467.5" y2="439.5" stroke="#6d6d6d" stroke-width="1"/>
<line x1="282.5" y1="378.5" x2="519.5" y2="378.5" stroke="#6d6d6d" stroke-width="1"/>
<line x1="282.5" y1="415.5" x2="519.5" y2="415.5" stroke="#6d6d6d" stroke-width="1"/>
<text x="263.3" y="374.5" font-size="11.5" text-anchor="start" font-weight="bold" fill="#000" font-family="'Liberation Sans', Arial, sans-serif" >(f)</text>
<text x="441.0" y="375.8" font-size="10.5" text-anchor="middle" font-weight="bold" fill="#000" font-family="'Liberation Serif', 'Times New Roman', serif" stroke="#000" stroke-width="0.15">GeO<tspan font-size="62%" baseline-shift="-22%">x</tspan>/Ge</text>
<text x="493.5" y="375.8" font-size="10.5" text-anchor="middle" font-weight="bold" fill="#000" font-family="'Liberation Serif', 'Times New Roman', serif" stroke="#000" stroke-width="0.15">SiO<tspan font-size="62%" baseline-shift="-22%">x</tspan>/Si</text>
<text x="348.5" y="388.0" font-size="10.5" text-anchor="middle" font-weight="bold" fill="#000" font-family="'Liberation Serif', 'Times New Roman', serif" stroke="#000" stroke-width="0.15">300°C anneal/</text>
<text x="348.5" y="400.70000000000005" font-size="10.5" text-anchor="middle" font-weight="bold" fill="#000" font-family="'Liberation Serif', 'Times New Roman', serif" stroke="#000" stroke-width="0.15">25°C TiCl<tspan font-size="62%" baseline-shift="-22%">4</tspan>/25°C H<tspan font-size="62%" baseline-shift="-22%">2</tspan>O<tspan font-size="62%" baseline-shift="-22%">2</tspan>/</text>
<text x="348.5" y="412.70000000000005" font-size="10.5" text-anchor="middle" font-weight="bold" fill="#000" font-family="'Liberation Serif', 'Times New Roman', serif" stroke="#000" stroke-width="0.15">Si<tspan font-size="62%" baseline-shift="-22%">0.5</tspan>Ge<tspan font-size="62%" baseline-shift="-22%">0.5</tspan>(110)</text>
<text x="441.0" y="400.70000000000005" font-size="10.5" text-anchor="middle" font-weight="normal" fill="#000" font-family="'Liberation Serif', 'Times New Roman', serif" >0</text>
<text x="493.5" y="400.70000000000005" font-size="10.5" text-anchor="middle" font-weight="normal" fill="#000" font-family="'Liberation Serif', 'Times New Roman', serif" >0.29±0.02</text>
<text x="348.5" y="425.0" font-size="10.5" text-anchor="middle" font-weight="bold" fill="#000" font-family="'Liberation Serif', 'Times New Roman', serif" stroke="#000" stroke-width="0.15">25°C TiCl<tspan font-size="62%" baseline-shift="-22%">4</tspan>/25°C H<tspan font-size="62%" baseline-shift="-22%">2</tspan>O<tspan font-size="62%" baseline-shift="-22%">2</tspan>/</text>
<text x="348.5" y="437.20000000000005" font-size="10.5" text-anchor="middle" font-weight="bold" fill="#000" font-family="'Liberation Serif', 'Times New Roman', serif" stroke="#000" stroke-width="0.15">Si<tspan font-size="62%" baseline-shift="-22%">0.5</tspan>Ge<tspan font-size="62%" baseline-shift="-22%">0.5</tspan>(110)</text>
<text x="441.0" y="431.90000000000003" font-size="10.5" text-anchor="middle" font-weight="normal" fill="#000" font-family="'Liberation Serif', 'Times New Roman', serif" >0.23±0.02</text>
<text x="493.5" y="431.90000000000003" font-size="10.5" text-anchor="middle" font-weight="normal" fill="#000" font-family="'Liberation Serif', 'Times New Roman', serif" >0.15±0.02</text>
</svg>
</body></html>
